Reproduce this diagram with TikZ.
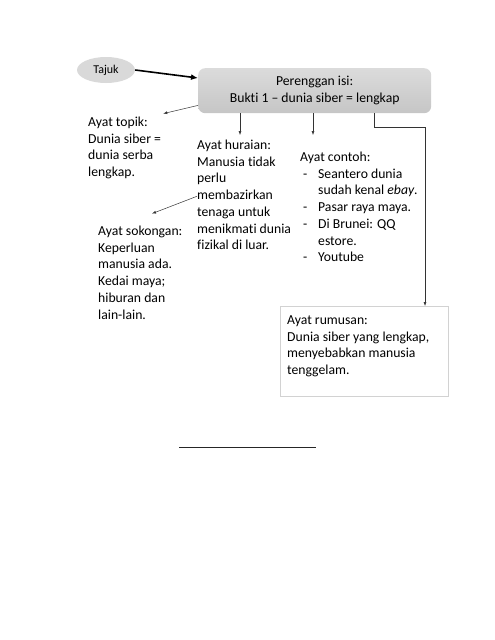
\documentclass[tikz,border=0pt]{standalone}
\usepackage{fontspec}
\setmainfont{Carlito}[Ligatures=NoCommon]
\usetikzlibrary{shapes.geometric,arrows.meta}
\newcommand{\baris}[1]{\begin{tabular}[t]{@{}l@{}}#1\end{tabular}}
\tikzset{
  teks/.style={anchor=base west, inner sep=0pt, font=\fontsize{13.7}{16.7}\selectfont},
  panah/.style={-{Latex[length=4pt,width=3pt]}, line width=0.5pt, draw=black!80},
}
\begin{document}
\begin{tikzpicture}[x=1pt,y=-1pt]
\useasboundingbox (0,0) rectangle (495,640);

% Tajuk and the main paragraph box
\node [ellipse, fill=gray!30, minimum width=58pt, minimum height=26pt, inner sep=0pt, font=\fontsize{12}{14}\selectfont] (tajuk) at (106,70) {Tajuk};
\node [rounded corners=7pt, top color=gray!28, bottom color=gray!45, minimum width=233pt, minimum height=45pt, anchor=north west, align=center, font=\fontsize{13.7}{16.7}\selectfont] (isi) at (198,68) {Perenggan isi:\\Bukti 1 – dunia siber = lengkap};

% Text of each sentence
\node [teks] (topik) at (88,126.5) {\baris{Ayat topik:\\Dunia siber =\\dunia serba\\lengkap.}};
\node [teks] (huraian) at (197,149.5) {\baris{Ayat huraian:\\Manusia tidak\\perlu\\membazirkan\\tenaga untuk\\menikmati dunia\\fizikal di luar.}};
\node [teks] (sokongan) at (98,235.5) {\baris{Ayat sokongan:\\Keperluan\\manusia ada.\\Kedai maya;\\hiburan dan\\lain-lain.}};
\node [teks] (contoh) at (300,161.5) {\baris{Ayat contoh:\\
  \hspace*{3pt}\makebox[15pt][l]{-}Seantero dunia\\
  \hspace*{18pt}sudah kenal \emph{ebay}.\\
  \hspace*{3pt}\makebox[15pt][l]{-}Pasar raya maya.\\
  \hspace*{3pt}\makebox[15pt][l]{-}Di Brunei: QQ\\
  \hspace*{18pt}estore.\\
  \hspace*{3pt}\makebox[15pt][l]{-}Youtube}};

% Ayat rumusan in its box
\node [draw=gray!35, minimum width=168pt, minimum height=90pt, anchor=north west, inner sep=0pt] (rumusan) at (280,306) {};
\node [teks] (rumusanteks) at (287,324.5) {\baris{Ayat rumusan:\\Dunia siber yang lengkap,\\menyebabkan manusia\\tenggelam.}};

% Connectors
\draw [-{Latex[length=7pt,width=6pt]}, line width=1.6pt] (tajuk.east) -- ([yshift=-10pt]isi.north west);
\draw [panah] ([yshift=8pt]isi.south west) -- ([xshift=2pt,yshift=1pt]topik.north east);
\draw [panah] (240,0 |- isi.south) -- (240,135);
\draw [panah] (313,0 |- isi.south) -- (313,135);
\draw [panah] (374,0 |- isi.south) -- (374,127) -- (425,127) -- (425,0 |- rumusan.north);
\draw [panah] (huraian.west) -- ([xshift=54pt,yshift=10pt]sokongan.north west);

% Signature line
\coordinate (garisA) at (179,447);
\coordinate (garisB) at (316,447);
\draw [line width=1pt, gray!30!black] (garisA) -- (garisB);
\end{tikzpicture}
\end{document}
